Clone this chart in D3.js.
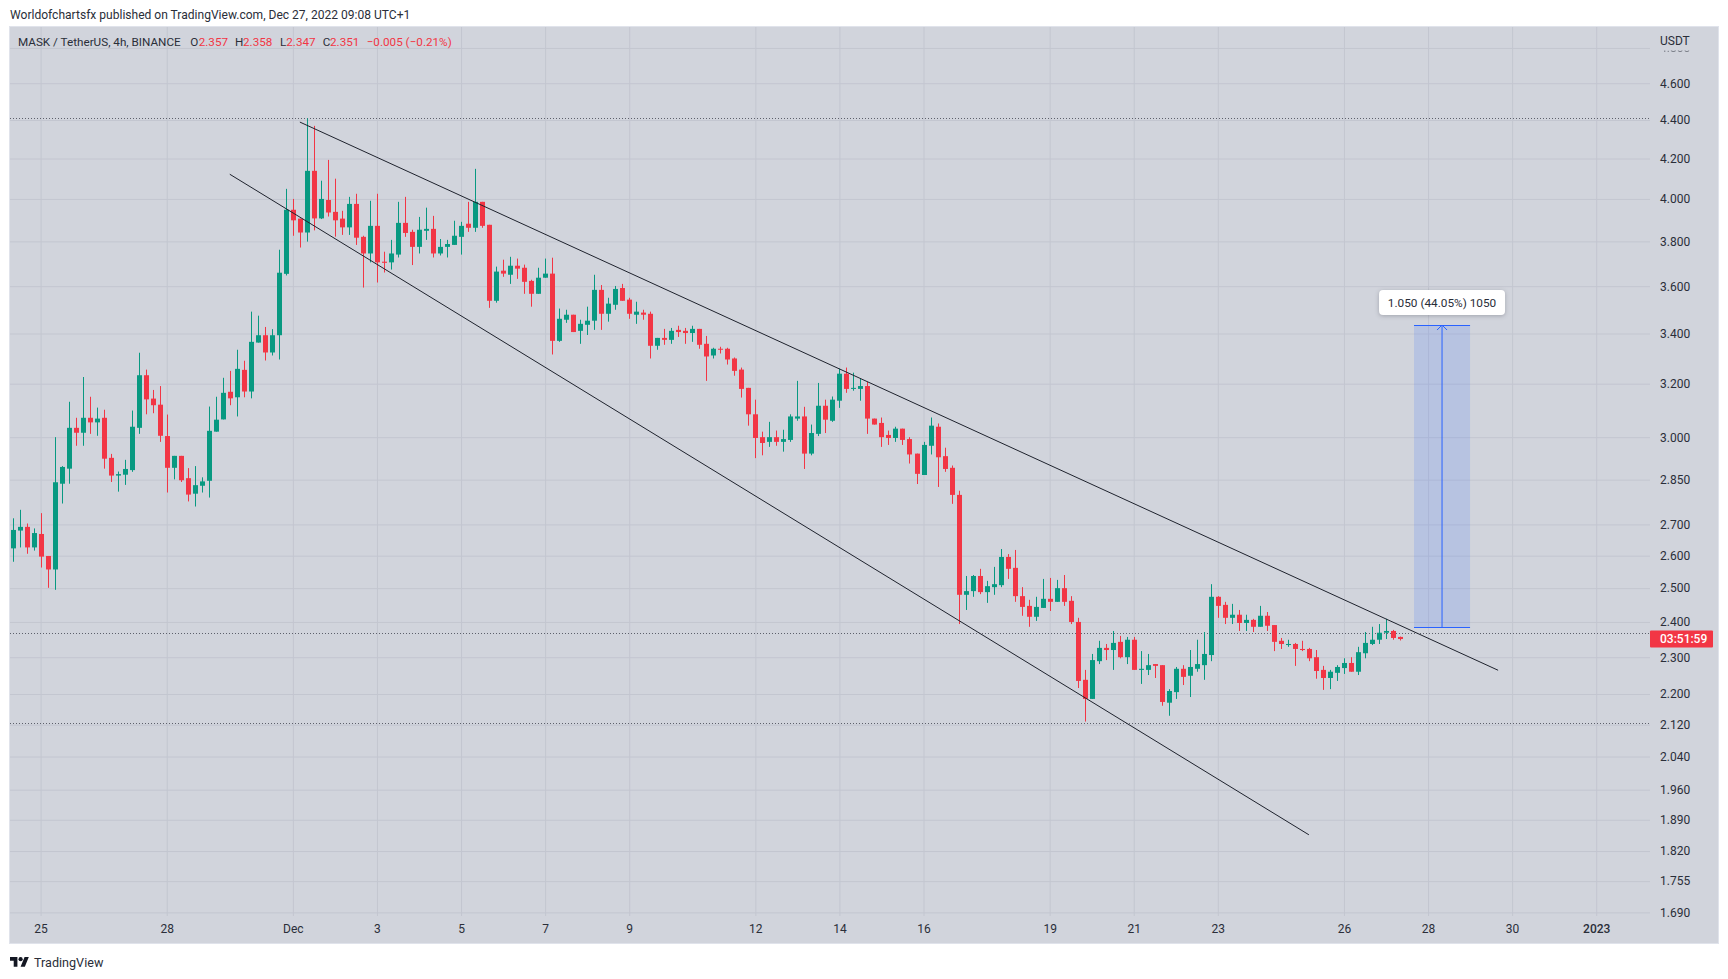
<!DOCTYPE html>
<html>
<head>
<meta charset="utf-8">
<title>MASK / TetherUS</title>
<script src="https://cdn.jsdelivr.net/npm/d3@7"></script>
<style>
    html, body { margin: 0; padding: 0; background: #fff; overflow: hidden; }
    svg { display: block; }
    text { font-family: Roboto, sans-serif; }
    .axis path { display: none; }
    .grid line { stroke: #c3c6d0; stroke-width: 1; }
    .axis text { font-size: 12px; fill: #2a2e39; }
</style>
</head>
<body>
<svg id="chart" width="1728" height="979"></svg>
<script>
// 4h candles, first one opens Nov 24 08:00
const firstBar = Date.UTC(2022, 10, 24, 8);

const opens = [
    2.623,2.680,2.692,2.626,2.669,2.599,2.557,2.836,2.888,3.034,
    3.016,3.071,3.054,3.071,2.926,2.864,2.867,2.883,3.034,3.233,
    3.143,3.120,3.004,2.891,2.933,2.855,2.802,2.829,2.846,3.020,
    3.065,3.169,3.148,3.254,3.170,3.363,3.393,3.323,3.393,3.654,
    3.948,3.906,3.841,4.138,3.907,3.995,3.938,3.906,3.865,3.976,
    3.821,3.745,3.872,3.708,3.705,3.740,3.886,3.844,3.775,3.849,
    3.858,3.745,3.775,3.784,3.821,3.882,3.863,3.986,3.877,3.537,
    3.668,3.650,3.690,3.681,3.623,3.567,3.637,3.655,3.370,3.457,
    3.478,3.411,3.436,3.453,3.584,3.482,3.520,3.592,3.542,3.478,
    3.487,3.482,3.350,3.382,3.374,3.415,3.411,3.402,3.419,3.358,
    3.311,3.338,3.338,3.299,3.255,3.184,3.084,3.000,2.983,3.000,
    2.983,2.990,3.068,3.076,2.941,3.012,3.116,3.060,3.135,3.239,
    3.180,3.180,3.191,3.068,3.052,3.008,2.997,3.031,2.993,2.941,
    2.866,2.969,3.038,2.932,2.891,2.798,2.480,2.491,2.537,2.488,
    2.503,2.509,2.596,2.562,2.476,2.447,2.415,2.441,2.468,2.459,
    2.500,2.462,2.400,2.238,2.187,2.289,2.326,2.320,2.343,2.300,
    2.349,2.265,2.265,2.281,2.278,2.177,2.205,2.268,2.249,2.268,
    2.278,2.306,2.474,2.450,2.412,2.421,2.397,2.406,2.386,2.418,
    2.391,2.346,2.334,2.337,2.323,2.323,2.300,2.265,2.243,2.257,
    2.270,2.284,2.260,2.311,2.337,2.349,2.369,2.374,2.357
];

const highs = [
    2.720,2.748,2.703,2.687,2.737,2.599,3.000,2.897,3.131,3.071,
    3.226,3.150,3.109,3.101,2.940,2.878,2.919,3.098,3.322,3.255,
    3.176,3.191,3.083,2.933,2.933,2.890,2.897,2.858,3.113,3.150,
    3.223,3.250,3.334,3.290,3.491,3.474,3.427,3.418,3.762,4.049,
    4.000,3.906,4.409,4.369,4.089,4.193,4.099,3.943,4.010,4.025,
    3.826,3.991,4.025,3.753,3.807,3.986,4.010,3.854,3.914,3.958,
    3.919,3.811,3.807,3.896,3.891,3.986,4.148,3.986,3.877,3.686,
    3.717,3.730,3.722,3.695,3.628,3.681,3.722,3.726,3.504,3.499,
    3.478,3.457,3.512,3.650,3.605,3.550,3.601,3.610,3.550,3.533,
    3.499,3.491,3.382,3.419,3.423,3.432,3.423,3.432,3.419,3.390,
    3.342,3.346,3.342,3.303,3.263,3.184,3.139,3.020,3.056,3.024,
    3.027,3.084,3.211,3.112,3.046,3.203,3.139,3.151,3.259,3.263,
    3.243,3.219,3.207,3.068,3.072,3.024,3.038,3.031,3.000,2.941,
    2.983,3.072,3.050,2.962,2.899,2.812,2.537,2.540,2.559,2.522,
    2.565,2.621,2.605,2.618,2.503,2.465,2.474,2.528,2.531,2.525,
    2.540,2.476,2.412,2.265,2.309,2.346,2.337,2.374,2.360,2.357,
    2.357,2.317,2.309,2.281,2.278,2.213,2.273,2.278,2.320,2.349,
    2.371,2.512,2.476,2.459,2.453,2.435,2.421,2.409,2.447,2.429,
    2.391,2.354,2.349,2.340,2.346,2.326,2.320,2.276,2.265,2.278,
    2.297,2.300,2.329,2.371,2.386,2.394,2.409,2.377,2.358
];

const lows = [
    2.581,2.626,2.606,2.616,2.563,2.501,2.495,2.769,2.836,2.969,
    2.969,3.012,3.005,2.888,2.842,2.809,2.832,2.877,3.012,3.084,
    3.088,2.983,2.806,2.851,2.842,2.776,2.759,2.806,2.789,3.020,
    3.065,3.118,3.076,3.148,3.144,3.363,3.291,3.311,3.295,3.647,
    3.826,3.772,3.799,3.851,3.904,3.916,3.822,3.830,3.830,3.784,
    3.594,3.705,3.616,3.660,3.673,3.727,3.821,3.693,3.745,3.807,
    3.727,3.736,3.727,3.784,3.740,3.844,3.844,3.863,3.507,3.529,
    3.641,3.610,3.632,3.567,3.512,3.567,3.637,3.315,3.366,3.444,
    3.406,3.358,3.394,3.415,3.415,3.449,3.499,3.537,3.461,3.440,
    3.457,3.299,3.334,3.354,3.358,3.386,3.358,3.366,3.338,3.211,
    3.299,3.319,3.275,3.231,3.147,3.042,2.925,2.935,2.965,2.969,
    2.948,2.983,3.060,2.887,2.935,3.004,3.015,3.056,3.108,3.165,
    3.173,3.135,3.012,3.046,2.965,2.972,2.983,2.972,2.906,2.835,
    2.866,2.938,2.825,2.877,2.768,2.394,2.435,2.474,2.482,2.456,
    2.480,2.503,2.528,2.459,2.418,2.386,2.403,2.441,2.432,2.459,
    2.447,2.394,2.216,2.128,2.187,2.281,2.292,2.265,2.297,2.281,
    2.265,2.227,2.251,2.243,2.169,2.143,2.187,2.224,2.192,2.260,
    2.238,2.289,2.412,2.394,2.394,2.374,2.374,2.371,2.386,2.374,
    2.317,2.323,2.329,2.276,2.317,2.289,2.241,2.211,2.213,2.235,
    2.254,2.260,2.251,2.297,2.334,2.337,2.351,2.349,2.347
];

const closes = [
    2.682,2.692,2.626,2.672,2.597,2.557,2.841,2.894,3.034,3.016,
    3.071,3.054,3.068,2.923,2.864,2.869,2.887,3.038,3.233,3.140,
    3.118,3.005,2.891,2.933,2.848,2.799,2.831,2.844,3.023,3.064,
    3.165,3.144,3.258,3.170,3.366,3.393,3.323,3.393,3.659,3.948,
    3.898,3.841,4.138,3.907,4.000,3.935,3.898,3.865,3.976,3.817,
    3.745,3.872,3.705,3.703,3.745,3.886,3.839,3.775,3.854,3.858,
    3.745,3.775,3.788,3.826,3.872,3.863,3.986,3.872,3.537,3.664,
    3.655,3.690,3.677,3.619,3.567,3.637,3.655,3.370,3.461,3.478,
    3.406,3.440,3.453,3.584,3.482,3.525,3.588,3.537,3.482,3.491,
    3.478,3.350,3.382,3.374,3.411,3.406,3.402,3.419,3.354,3.307,
    3.338,3.334,3.295,3.250,3.180,3.084,2.997,2.979,3.000,2.983,
    2.993,3.076,3.076,2.941,3.015,3.116,3.064,3.139,3.239,3.180,
    3.184,3.191,3.068,3.046,3.000,2.997,3.031,2.990,2.938,2.870,
    2.972,3.042,2.928,2.887,2.798,2.480,2.491,2.537,2.488,2.506,
    2.512,2.596,2.559,2.476,2.444,2.415,2.444,2.468,2.459,2.500,
    2.459,2.400,2.235,2.187,2.292,2.326,2.320,2.340,2.300,2.349,
    2.265,2.268,2.278,2.276,2.179,2.208,2.268,2.246,2.273,2.281,
    2.309,2.474,2.447,2.412,2.421,2.397,2.406,2.386,2.418,2.389,
    2.343,2.337,2.337,2.323,2.320,2.297,2.262,2.243,2.260,2.273,
    2.284,2.260,2.314,2.340,2.349,2.369,2.374,2.354,2.351
];

const priceTicks = [4.8,4.6,4.4,4.2,4,3.8,3.6,3.4,3.2,3,2.85,2.7,2.6,2.5,2.4,2.3,2.2,2.12,2.04,1.96,1.89,1.82,1.755,1.69];

const timeTicks = [
    Date.UTC(2022,10,25), Date.UTC(2022,10,28), Date.UTC(2022,11,1), Date.UTC(2022,11,3),
    Date.UTC(2022,11,5), Date.UTC(2022,11,7), Date.UTC(2022,11,9), Date.UTC(2022,11,12),
    Date.UTC(2022,11,14), Date.UTC(2022,11,16), Date.UTC(2022,11,19), Date.UTC(2022,11,21),
    Date.UTC(2022,11,23), Date.UTC(2022,11,26), Date.UTC(2022,11,28), Date.UTC(2022,11,30),
    Date.UTC(2023,0,1)
];
const timeLabels = ["25","28","Dec","3","5","7","9","12","14","16","19","21","23","26","28","30","2023"];

// dotted horizontal levels
const levels = [4.408, 2.367, 2.124];

// the two channel lines
const upperLine = [[Date.UTC(2022,11,1,4), 4.389], [Date.UTC(2022,11,29,16), 2.264]];
const lowerLine = [[Date.UTC(2022,10,29,12), 4.121], [Date.UTC(2022,11,25,4), 1.856]];

// price range tool
const rangeStart = Date.UTC(2022,11,27,16);
const rangeMid = Date.UTC(2022,11,28,8);
const rangeEnd = Date.UTC(2022,11,29);
const rangeBottom = 2.385;
const rangeTop = 3.435;
const rangeLabel = "1.050 (44.05%) 1050";

const pageTitle = "Worldofchartsfx published on TradingView.com, Dec 27, 2022 09:08 UTC+1";
const legendItems = [
    { text: "MASK / TetherUS, 4h, BINANCE", x: 18, red: false },
    { text: "O", x: 190.3, red: false }, { text: "2.357", x: 198.7, red: true },
    { text: "H", x: 235, red: false }, { text: "2.358", x: 243, red: true },
    { text: "L", x: 280, red: false }, { text: "2.347", x: 286.3, red: true },
    { text: "C", x: 322.7, red: false }, { text: "2.351", x: 330, red: true },
    { text: "\u22120.005 (\u22120.21%)", x: 366.7, red: true }
];

const GREEN = "#089981";
const RED = "#f23645";
const BLUE = "#2962ff";
const INK = "#2a2e39";

const paneLeft = 10;
const paneRight = 1650;
const paneTop = 27;
const paneBottom = 916;
const chartRight = 1718;
const chartBottom = 943;

const svg = d3.select("#chart");

const x = d3.scaleUtc()
    .domain([Date.UTC(2022,10,25), Date.UTC(2023,0,1)])
    .range([40.6, 1596.2]);

const y = d3.scaleLog()
    .domain([4.4, 1.69])
    .range([120, 912.4]);

const bars = opens.map((open, i) => ({
    time: firstBar + i * 4 * 3600 * 1000,
    open: open,
    high: highs[i],
    low: lows[i],
    close: closes[i]
}));

svg.append("rect")
    .attr("x", paneLeft - 0.5).attr("y", paneTop - 0.5)
    .attr("width", chartRight - paneLeft + 1).attr("height", chartBottom - paneTop + 1)
    .attr("fill", "#d1d4dc").attr("stroke", "#e0e3eb");

const defs = svg.append("defs");
defs.append("clipPath").attr("id", "paneClip").append("rect")
    .attr("x", paneLeft).attr("y", paneTop)
    .attr("width", paneRight - paneLeft).attr("height", paneBottom - paneTop);
defs.append("clipPath").attr("id", "topTickClip").append("rect")
    .attr("x", 0).attr("y", 2)
    .attr("width", 60).attr("height", 6);

// grid
svg.append("g")
    .attr("class", "axis grid")
    .attr("transform", `translate(${paneRight},0)`)
    .call(d3.axisLeft(y).tickValues(priceTicks).tickSize(paneRight - paneLeft).tickFormat(""));

svg.append("g")
    .attr("class", "axis grid")
    .attr("transform", `translate(0,${paneBottom})`)
    .call(d3.axisTop(x).tickValues(timeTicks).tickSize(paneBottom - paneTop).tickFormat(""));

// axis labels
const priceAxis = svg.append("g")
    .attr("class", "axis")
    .attr("transform", `translate(${paneRight},0)`)
    .call(d3.axisRight(y).tickValues(priceTicks).tickSize(0).tickPadding(10).tickFormat(d3.format(".3f")));

priceAxis.selectAll(".tick").filter(d => d === 4.8).select("text")
    .attr("clip-path", "url(#topTickClip)")
    .attr("opacity", 0.5);

svg.append("g")
    .attr("class", "axis")
    .attr("transform", `translate(0,${paneBottom})`)
    .call(d3.axisBottom(x).tickValues(timeTicks).tickSize(0).tickPadding(8)
        .tickFormat((d, i) => timeLabels[i]))
    .selectAll("text")
    .attr("font-weight", (d, i) => timeLabels[i] === "2023" ? 500 : 400);

svg.append("text")
    .attr("x", 1660).attr("y", 45)
    .attr("font-size", 12).attr("fill", INK)
    .text("USDT");

const pane = svg.append("g").attr("clip-path", "url(#paneClip)");

// dotted levels
pane.selectAll(".level")
    .data(levels)
    .enter()
    .append("line")
    .attr("x1", paneLeft).attr("x2", paneRight)
    .attr("y1", d => Math.round(y(d)) + 0.5).attr("y2", d => Math.round(y(d)) + 0.5)
    .attr("stroke", "#5d606b")
    .attr("stroke-dasharray", "1 2");

// price range tool
pane.append("rect")
    .attr("x", x(rangeStart)).attr("width", x(rangeEnd) - x(rangeStart))
    .attr("y", y(rangeTop)).attr("height", y(rangeBottom) - y(rangeTop))
    .attr("fill", BLUE).attr("fill-opacity", 0.15);

pane.selectAll(".rangeEdge")
    .data([rangeTop, rangeBottom])
    .enter()
    .append("line")
    .attr("x1", x(rangeStart)).attr("x2", x(rangeEnd))
    .attr("y1", d => Math.round(y(d)) + 0.5).attr("y2", d => Math.round(y(d)) + 0.5)
    .attr("stroke", BLUE);

pane.append("line")
    .attr("x1", x(rangeMid)).attr("x2", x(rangeMid))
    .attr("y1", y(rangeBottom)).attr("y2", y(rangeTop))
    .attr("stroke", BLUE);

pane.append("path")
    .attr("d", `M${x(rangeMid) - 5},${y(rangeTop) + 5}L${x(rangeMid)},${y(rangeTop)}L${x(rangeMid) + 5},${y(rangeTop) + 5}`)
    .attr("fill", "none")
    .attr("stroke", BLUE);

// candles
const candle = pane.selectAll(".candle")
    .data(bars)
    .enter()
    .append("g")
    .attr("fill", d => d.close >= d.open ? GREEN : RED);

candle.append("rect")
    .attr("x", d => Math.round(x(d.time)))
    .attr("width", 1)
    .attr("y", d => y(d.high))
    .attr("height", d => y(d.low) - y(d.high));

candle.append("rect")
    .attr("x", d => Math.round(x(d.time)) - 2)
    .attr("width", 5)
    .attr("y", d => Math.min(y(d.open), y(d.close)))
    .attr("height", d => Math.max(1, Math.abs(y(d.open) - y(d.close))));

// channel lines
const channel = d3.line().x(d => x(d[0])).y(d => y(d[1]));

pane.selectAll(".channel")
    .data([upperLine, lowerLine])
    .enter()
    .append("path")
    .attr("d", channel)
    .attr("fill", "none")
    .attr("stroke", "#1e222d")
    .attr("stroke-width", 1);

// range label
const labelWidth = 126;
const labelHeight = 25;
svg.append("rect")
    .attr("x", x(rangeMid) - labelWidth / 2)
    .attr("y", y(rangeTop) - 10 - labelHeight)
    .attr("width", labelWidth).attr("height", labelHeight)
    .attr("rx", 4)
    .attr("fill", "#fff")
    .style("filter", "drop-shadow(0 1px 2px rgba(19,23,34,0.25))");

svg.append("text")
    .attr("x", x(rangeMid))
    .attr("y", y(rangeTop) - 10 - labelHeight / 2)
    .attr("dy", "0.35em")
    .attr("text-anchor", "middle")
    .attr("font-size", 11.8)
    .attr("fill", INK)
    .text(rangeLabel);

// countdown badge sits on the last close
const lastClose = closes[closes.length - 1];
svg.append("rect")
    .attr("x", paneRight).attr("y", y(lastClose) - 8.5)
    .attr("width", 63).attr("height", 17)
    .attr("rx", 1)
    .attr("fill", RED);

svg.append("text")
    .attr("x", 1660).attr("y", y(lastClose))
    .attr("dy", "0.35em")
    .attr("font-size", 12)
    .attr("font-weight", 500)
    .attr("fill", "#fff")
    .text("03:51:59");

// legend and page text
svg.selectAll(".legend")
    .data(legendItems)
    .enter()
    .append("text")
    .attr("x", d => d.x)
    .attr("y", 45.5)
    .attr("font-size", 11.7)
    .attr("fill", d => d.red ? RED : INK)
    .text(d => d.text);

svg.append("text")
    .attr("x", 10).attr("y", 19)
    .attr("font-size", 12.05)
    .attr("fill", INK)
    .text(pageTitle);

svg.append("path")
    .attr("transform", "translate(10,955) scale(0.53)")
    .attr("d", "M14 22H7V11H0V4h14v18zM28 22h-8l7.5-18h8L28 22z")
    .attr("fill", "#131722");
svg.append("circle")
    .attr("transform", "translate(10,955) scale(0.53)")
    .attr("cx", 20).attr("cy", 8).attr("r", 4)
    .attr("fill", "#131722");

svg.append("text")
    .attr("x", 34).attr("y", 966.5)
    .attr("font-size", 12.6)
    .attr("fill", INK)
    .text("TradingView");
</script>
</body>
</html>
